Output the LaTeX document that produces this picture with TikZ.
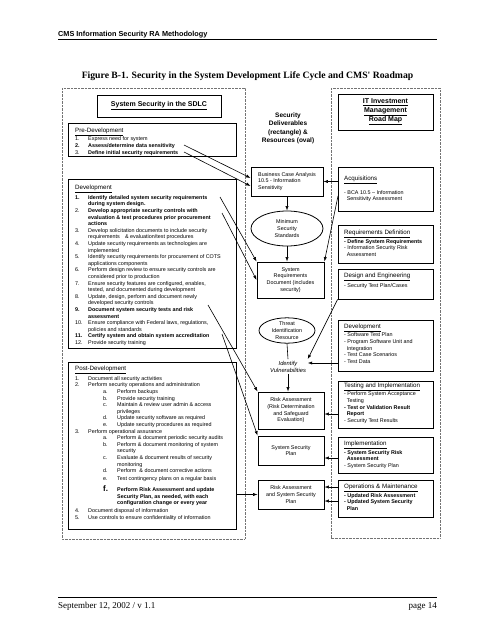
\documentclass[tikz,border=0pt]{standalone}
\usepackage{fontspec}
\setmainfont{Liberation Sans}
\newfontfamily\seriffam{Liberation Serif}
\usetikzlibrary{arrows.meta,shapes.geometric,calc}
\newcommand\mk[1]{\makebox[13pt][l]{#1}}
\newcommand\subi[1]{\hspace*{28pt}\makebox[14pt][l]{#1}}
\newcommand\hd[1]{{\fontsize{6.2}{6.6}\selectfont\underline{#1}}}
\newcommand\ind{\hspace*{2.6pt}}
\begin{document}
\begin{tikzpicture}[x=1pt,y=-1pt,font=\fontsize{5.4}{6.6}\selectfont,
  box/.style={draw,line width=0.8pt,inner sep=0pt,align=center},
  oval/.style={draw,ellipse,line width=0.8pt,inner sep=0pt,align=center},
  txt/.style={anchor=north west,inner sep=0pt,align=left},
  dotframe/.style={draw=black!55,line width=0.7pt,dash pattern=on 0.7pt off 0.7pt},
  arr/.style={-{Latex[length=4.5pt,width=3.2pt]},line width=0.6pt},
  ln/.style={line width=0.6pt}]
\path[use as bounding box] (0,0) rectangle (495,640);

% header / footer
\node[anchor=base west,inner sep=0pt,font=\fontsize{7.3}{8}\selectfont\bfseries] (hdr) at (58,36.5) {CMS Information Security RA Methodology};
\draw[line width=0.9pt] (58,39.5) -- (437,39.5);
\node[anchor=base,inner sep=0pt,font=\seriffam\bfseries\fontsize{9.7}{11}\selectfont] (title) at (247.5,78) {Figure B-1. Security in the System Development Life Cycle and CMS' Roadmap};
\draw[line width=0.8pt] (58,597) -- (437,597);
\node[anchor=base west,inner sep=0pt,font=\seriffam\fontsize{9}{10}\selectfont] (foot) at (58,608.5) {September 12, 2002 / v 1.1};
\node[anchor=base east,inner sep=0pt,font=\seriffam\fontsize{9}{10}\selectfont] (page) at (437,608.5) {page 14};

% dotted frames
\draw[dotframe] (62,88) rectangle (245,539);
\draw[dotframe] (331,88) rectangle (440,538);

% left column
\node[box,minimum width=124pt,minimum height=22pt,font=\fontsize{7}{9}\selectfont\bfseries] (sdlc) at (159,106) {\underline{System Security in the SDLC}};

\node[box,minimum width=168pt,minimum height=33pt] (predev) at (152,139.5) {};
\node[txt] (predevtxt) at (75,128) {\hd{Pre-Development}\\
\mk{1.}Express need for system\\
\mk{\textbf{2.}}\textbf{Assess/determine data sensitivity}\\
\mk{3.}\textbf{Define initial security requirements}};

\node[box,minimum width=168pt,minimum height=169pt] (dev) at (152,263.5) {};
\node[txt] (devtxt) at (75,185) {\hd{Development}\\[1.4pt]
\mk{\textbf{1.}}\textbf{Identify detailed system security requirements}\\
\mk{}\textbf{during system design.}\\
\mk{2.}\textbf{Develop appropriate security controls with}\\
\mk{}\textbf{evaluation \& test procedures prior procurement}\\
\mk{}\textbf{actions}\\
\mk{3.}Develop solicitation documents to include security\\
\mk{}requirements\quad\& evaluation/test procedures\\
\mk{4.}Update security requirements as technologies are\\
\mk{}implemented\\
\mk{5.}Identify security requirements for procurement of COTS\\
\mk{}applications components\\
\mk{6.}Perform design review to ensure security controls are\\
\mk{}considered prior to production\\
\mk{7.}Ensure security features are configured, enables,\\
\mk{}tested, and documented during development\\
\mk{8.}Update, design, perform and document newly\\
\mk{}developed security controls\\
\mk{\textbf{9.}}\textbf{Document system security tests and risk}\\
\mk{}\textbf{assessment}\\
\mk{10.}Ensure compliance with Federal laws, regulations,\\
\mk{}policies and standards\\
\mk{\textbf{11.}}\textbf{Certify system and obtain system accreditation}\\
\mk{12.}Provide security training};

\node[box,minimum width=168pt,minimum height=167pt] (postdev) at (152,445.5) {};
\node[txt] (postdevtxt) at (75,366) {\hd{Post-Development}\\[1.4pt]
\mk{1.}Document all security activities\\
\mk{2.}Perform security operations and administration\\
\subi{a.}Perform backups\\
\subi{b.}Provide security training\\
\subi{c.}Maintain \& review user admin \& access\\
\subi{}privileges\\
\subi{d.}Update security software as required\\
\subi{e.}Update security procedures as required\\
\mk{3.}Perform operational assurance\\
\subi{a.}Perform \& document periodic security audits\\
\subi{b.}Perform \& document monitoring of system\\
\subi{}security\\
\subi{c.}Evaluate \& document results of security\\
\subi{}monitoring\\
\subi{d.}Perform\ \ \& document corrective actions\\[1.4pt]
\subi{e.}Test contingency plans on a regular basis\\[3pt]
\subi{\fontsize{8}{8}\selectfont\textbf{f.}}\textbf{Perform Risk Assessment and update}\\
\subi{}\textbf{Security Plan, as needed, with each}\\
\subi{}\textbf{configuration change or every year}\\[1.4pt]
\mk{4.}Document disposal of information\\
\mk{5.}Use controls to ensure confidentiality of information};

% middle column
\node[inner sep=0pt,align=center,font=\fontsize{6.5}{8.5}\selectfont\bfseries] (deliv) at (288,128.5) {Security\\Deliverables\\(rectangle) \&\\Resources (oval)};
\node[box,minimum width=72pt,minimum height=29pt,align=left,font=\fontsize{5.4}{6.6}\selectfont] (bca) at (287,181.5) {Business Case Analysis\\10.5 - Information\\Sensitivity};
\node[oval,minimum width=72pt,minimum height=35pt,font=\fontsize{5.4}{7}\selectfont] (minsec) at (287,228.5) {Minimum\\Security\\Standards};
\node[box,minimum width=67pt,minimum height=36pt,font=\fontsize{5.4}{6.7}\selectfont] (sysreq) at (290.5,280) {System\\Requirements\\Document (includes\\security)};
\node[oval,minimum width=56pt,minimum height=25pt,font=\fontsize{5.4}{7}\selectfont] (threat) at (287,330.5) {Threat\\Identification\\Resource};
\node[inner sep=1.5pt,align=center,font=\fontsize{5.8}{7}\selectfont\itshape] (ident) at (288,366.5) {Identify\\Vulnerabilities};
\node[box,minimum width=66pt,minimum height=37pt,font=\fontsize{5.4}{6.7}\selectfont] (riskA) at (291,410.5) {Risk Assessment\\(Risk Determination\\and Safeguard\\Evaluation)};
\node[box,minimum width=66pt,minimum height=29pt,font=\fontsize{5.4}{6.7}\selectfont] (ssp) at (291,450.5) {System Security\\Plan};
\node[box,minimum width=66pt,minimum height=29pt,font=\fontsize{5.4}{6.7}\selectfont] (rassp) at (291,494.5) {Risk Assessment\\and System Security\\Plan};

% right column
\node[box,minimum width=95pt,minimum height=36pt,font=\fontsize{7}{9}\selectfont\bfseries] (itroad) at (385.5,112) {\underline{IT Investment}\\\underline{Management}\\\underline{Road Map}};

\node[box,minimum width=95pt,minimum height=44pt] (acq) at (385.5,189) {};
\node[txt] (acqtxt) at (344,176) {\hd{Acquisitions}\\[5.4pt]
- BCA 10.5 \textendash{} Information\\
\ind Sensitivity Assessment};

\node[box,minimum width=95pt,minimum height=38pt] (reqdef) at (385.5,244) {};
\node[txt] (reqdeftxt) at (344,230) {\hd{Requirements Definition}\\[0.4pt]
\textbf{- Define System Requirements}\\
- Information Security Risk\\
\ind Assessment};

\node[box,minimum width=95pt,minimum height=30pt] (design) at (385.5,284) {};
\node[txt] (designtxt) at (344,273) {\hd{Design and Engineering}\\[1.4pt]
- Security Test Plan/Cases};

\node[box,minimum width=95pt,minimum height=51pt] (rdev) at (385.5,345.5) {};
\node[txt] (rdevtxt) at (344,324) {\hd{Development}\\
- Software Test Plan\\
- Program Software Unit and\\
\ind Integration\\
- Test Case Scenarios\\
- Test Data};

\node[box,minimum width=95pt,minimum height=47pt] (rtest) at (385.5,404.5) {};
\node[txt] (rtesttxt) at (344,383) {\hd{Testing and Implementation}\\
- Perform System Acceptance\\
\ind Testing\\
\textbf{- Test or Validation Result}\\
\ind\textbf{Report}\\
- Security Test Results};

\node[box,minimum width=95pt,minimum height=36pt] (rimpl) at (385.5,455) {};
\node[txt] (rimpltxt) at (344,441) {\hd{Implementation}\\[0.4pt]
\textbf{- System Security Risk}\\
\ind\textbf{Assessment}\\
- System Security Plan};

\node[box,minimum width=95pt,minimum height=37pt] (rom) at (385.5,498.5) {};
\node[txt] (romtxt) at (344,484) {\hd{Operations \& Maintenance}\\[0.4pt]
\textbf{- Updated Risk Assessment}\\
\textbf{- Updated System Security}\\
\ind\textbf{Plan}};

% free ends on text lines
\coordinate (p2) at (184,145);
\coordinate (p3) at (184,152);
\coordinate (d1) at (220,197);
\coordinate (d2) at (222,213);
\coordinate (d9) at (208,305);
\coordinate (d11) at (222,334);
\coordinate (acqout) at (338,196);

% connectors
\draw[arr] (p2) -- ($(bca.west)+(0,-3.5)$);
\draw[arr] (p3) -- ($(bca.west)+(0,4.5)$);
\draw[arr] (bca.east -| acq.west) -- (bca.east);
\draw[arr] (bca.south -| minsec.north) -- (minsec.north);
\draw[arr] (minsec.south) -- (minsec.south |- sysreq.north);
\draw[arr] (d1) -- (sysreq.north west);
\draw[arr] (d2) -- (sysreq.west);
\draw[arr] (acqout) -- (sysreq.north east);
\draw[ln] (threat.south) -- (ident.north);
\draw[arr] (ident.south) -- (ident.south |- riskA.north);
\draw[arr] (design.south west) -- (ident.north east);
\draw[arr] ($(rdev.west)+(0,17.5)$) -- ($(ident.east)+(0,-3.5)$);
\draw[arr] (d9) -- (riskA.north west);
\draw[arr] (d11) -- (ssp.north west);
\draw[arr] ($(rtest.west)+(0,9.5)$) -- ($(riskA.east)+(0,3.5)$);
\draw[arr] ($(rimpl.west)+(0,3)$) -- ($(ssp.east)+(0,7.5)$);
\draw[arr] ($(rom.west)+(0,-11.5)$) -- ($(rassp.east)+(0,-7.5)$);
\draw[arr] ($(rom.west)+(0,2.5)$) -- ($(rassp.east)+(0,6.5)$);
\draw[arr] (postdev.east |- rassp.west) -- (rassp.west);
\end{tikzpicture}
\end{document}
